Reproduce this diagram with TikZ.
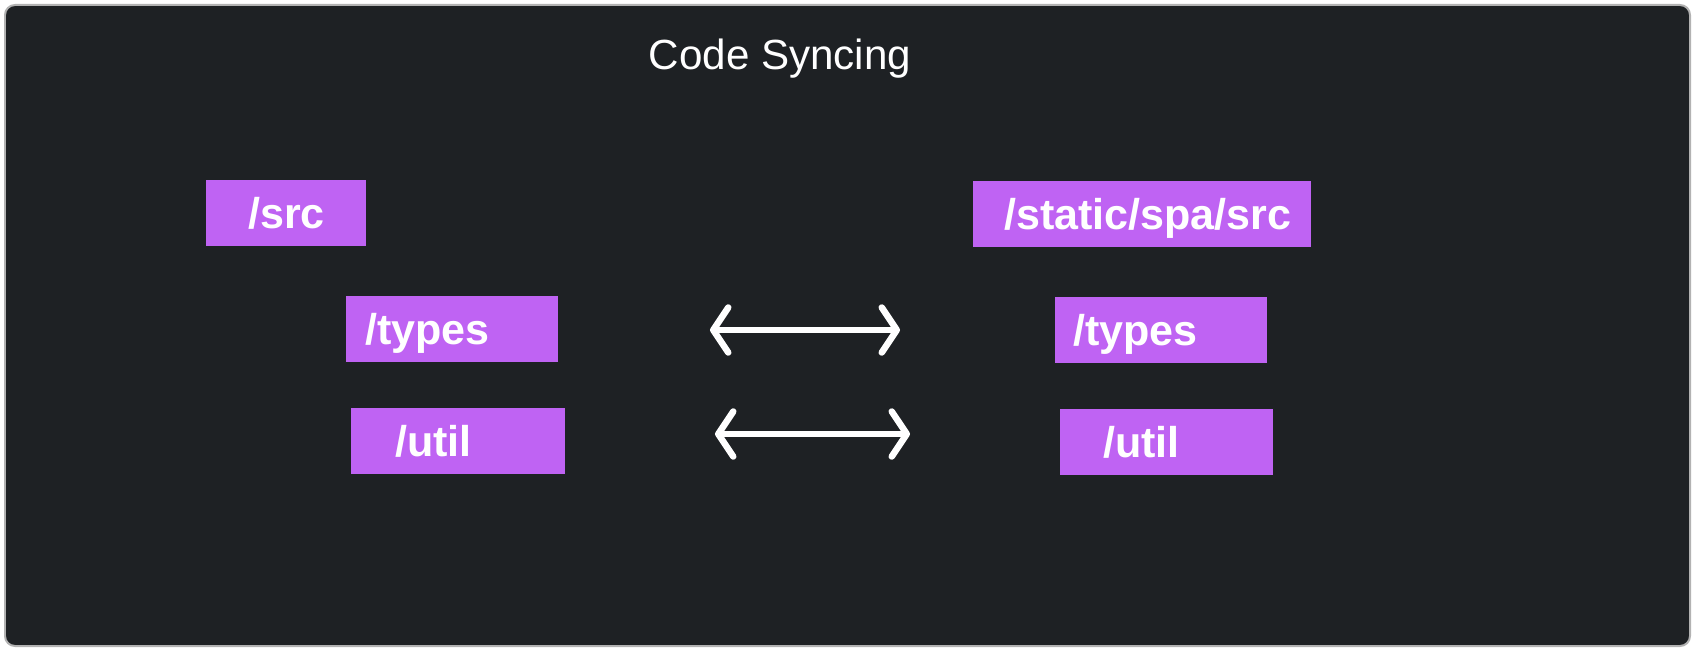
\documentclass[tikz,border=0pt]{standalone}
\usepackage{fontspec}
\setmainfont{Liberation Sans}
\usetikzlibrary{arrows.meta}
\definecolor{panel}{HTML}{1E2124}
\definecolor{folder}{HTML}{BF63F3}
\tikzset{
  dir/.style={fill=folder, anchor=north west, minimum height=1.32cm, text=white,
    font=\bfseries\fontsize{24.5}{28}\selectfont, align=left, inner sep=0pt, text depth=0pt},
  sync/.style={white, line width=0.13cm, line cap=round, line join=round,
    {Straight Barb[length=0.3cm,width=0.9cm,line width=0.13cm,round]}-{Straight Barb[length=0.3cm,width=0.9cm,line width=0.13cm,round]}}
}
\begin{document}
\begin{tikzpicture}[x=0.02cm,y=-0.02cm]
  \useasboundingbox (0,0) rectangle (1696,652);
  \draw[fill=panel, draw=gray!60, line width=0.04cm, rounded corners=0.2cm] (5,5) rectangle (1690,646);
  \node (title) [white, font=\fontsize{24}{28}\selectfont] at (780,59) {Code Syncing};
  % left tree
  \node (src) [dir, minimum width=3.2cm, text width=3.2cm] at (206,180) {\hspace*{0.84cm}/src};
  \node (ltypes) [dir, minimum width=4.24cm, text width=4.24cm] at (346,296) {\hspace*{0.38cm}/types};
  \node (lutil) [dir, minimum width=4.28cm, text width=4.28cm] at (351,408) {\hspace*{0.88cm}/util};
  % right tree
  \node (spa) [dir, minimum width=6.76cm, text width=6.76cm] at (973,181) {\hspace*{0.62cm}/static/spa/src};
  \node (rtypes) [dir, minimum width=4.24cm, text width=4.24cm] at (1055,297) {\hspace*{0.36cm}/types};
  \node (rutil) [dir, minimum width=4.26cm, text width=4.26cm] at (1060,409) {\hspace*{0.86cm}/util};
  % sync arrows
  \coordinate (ta) at (710,330);
  \coordinate (tb) at (900,330);
  \coordinate (ua) at (715,434);
  \coordinate (ub) at (910,434);
  \draw[sync] (ta) -- (tb);
  \draw[sync] (ua) -- (ub);
\end{tikzpicture}
\end{document}
